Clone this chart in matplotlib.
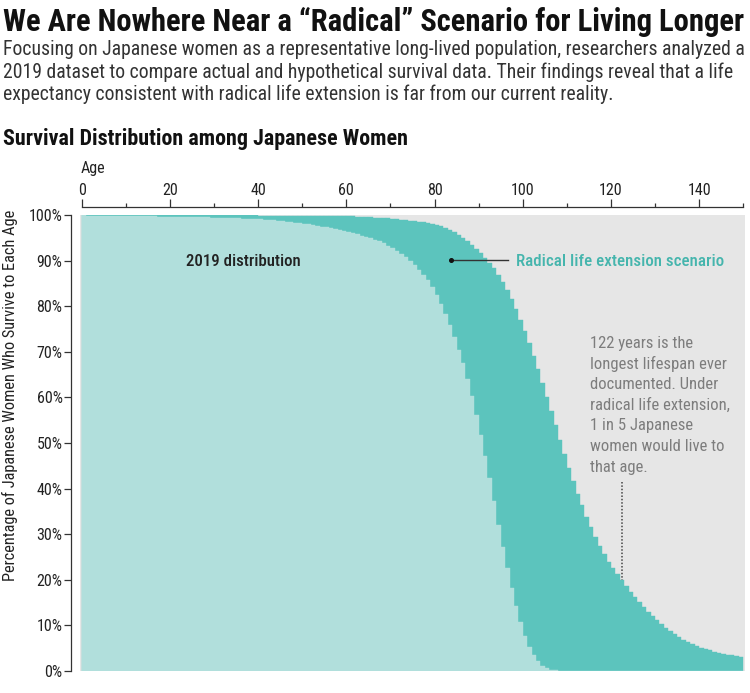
import matplotlib
matplotlib.use("Agg")
import matplotlib.pyplot as plt
from matplotlib import font_manager as fm

# ---------------- data ----------------
ages = list(range(0, 150))

survival_2019 = [
    100.0, 99.82, 99.80, 99.79, 99.78, 99.77, 99.76, 99.75, 99.75, 99.74,
    99.73, 99.73, 99.72, 99.72, 99.71, 99.70, 99.69, 99.67, 99.66, 99.64,
    99.62, 99.60, 99.58, 99.56, 99.54, 99.52, 99.50, 99.48, 99.46, 99.43,
    99.41, 99.38, 99.35, 99.32, 99.29, 99.25, 99.21, 99.17, 99.12, 99.07,
    99.02, 98.96, 98.89, 98.82, 98.74, 98.65, 98.55, 98.45, 98.34, 98.22,
    98.09, 97.95, 97.80, 97.64, 97.47, 97.29, 97.10, 96.90, 96.68, 96.45,
    96.30, 96.05, 95.80, 95.50, 95.20, 94.90, 94.60, 94.20, 93.80, 93.30,
    92.80, 92.20, 91.50, 90.80, 90.00, 89.10, 88.00, 86.90, 85.70, 84.20,
    82.50, 80.50, 78.30, 75.90, 73.30, 70.50, 67.50, 64.10, 60.30, 56.20,
    51.80, 47.10, 42.30, 37.20, 32.10, 27.30, 22.60, 18.20, 14.20, 10.80,
    7.70, 5.30, 3.50, 2.10, 1.20, 0.60, 0.30, 0.15, 0.07, 0.03,
    0.01, 0, 0, 0, 0, 0, 0, 0, 0, 0,
    0, 0, 0, 0, 0, 0, 0, 0, 0, 0,
    0, 0, 0, 0, 0, 0, 0, 0, 0, 0,
    0, 0, 0, 0, 0, 0, 0, 0, 0, 0,
]

survival_radical = [
    100.0, 99.98, 99.98, 99.98, 99.98, 99.98, 99.98, 99.98, 99.98, 99.98,
    99.96, 99.96, 99.96, 99.96, 99.96, 99.96, 99.96, 99.96, 99.96, 99.96,
    99.94, 99.94, 99.94, 99.94, 99.94, 99.94, 99.94, 99.94, 99.94, 99.94,
    99.91, 99.91, 99.91, 99.91, 99.91, 99.91, 99.91, 99.91, 99.91, 99.91,
    99.87, 99.87, 99.87, 99.87, 99.87, 99.87, 99.87, 99.87, 99.87, 99.87,
    99.82, 99.82, 99.82, 99.82, 99.82, 99.77, 99.77, 99.77, 99.77, 99.77,
    99.72, 99.68, 99.64, 99.60, 99.55, 99.50, 99.44, 99.38, 99.31, 99.24,
    99.16, 99.08, 98.99, 98.89, 98.78, 98.66, 98.53, 98.39, 98.23, 98.05,
    97.80, 97.50, 97.10, 96.70, 96.20, 95.60, 95.00, 94.30, 93.50, 92.60,
    91.60, 90.60, 89.50, 88.30, 86.90, 85.30, 83.50, 81.50, 79.30, 77.00,
    74.50, 71.90, 69.10, 66.20, 63.20, 60.10, 57.00, 53.90, 50.70, 47.60,
    44.60, 41.70, 38.90, 36.30, 33.80, 31.50, 29.40, 27.50, 25.70, 24.00,
    22.60, 21.20, 19.90, 18.60, 17.40, 16.20, 15.10, 14.00, 13.00, 12.00,
    11.10, 10.30, 9.50, 8.80, 8.10, 7.50, 6.90, 6.40, 5.90, 5.50,
    5.10, 4.80, 4.50, 4.20, 4.00, 3.80, 3.60, 3.40, 3.25, 3.10,
]

x_major = [0, 20, 40, 60, 80, 100, 120, 140]
x_minor = [10, 30, 50, 70, 90, 110, 130, 150]
y_ticks = [0, 10, 20, 30, 40, 50, 60, 70, 80, 90, 100]
y_ticklabels = [f"{v}%" for v in y_ticks]

title = "We Are Nowhere Near a \u201cRadical\u201d Scenario for Living Longer"
subtitle = [
    "Focusing on Japanese women as a representative long-lived population, researchers analyzed a",
    "2019 dataset to compare actual and hypothetical survival data. Their findings reveal that a life",
    "expectancy consistent with radical life extension is far from our current reality.",
]
chart_title = "Survival Distribution among Japanese Women"
y_label = "Percentage of Japanese Women Who Survive to Each Age"
note_lines = [
    "122 years is the",
    "longest lifespan ever",
    "documented. Under",
    "radical life extension,",
    "1 in 5 Japanese",
    "women would live to",
    "that age.",
]
note_age = 122

# ---------------- styling ----------------
BG = "#e6e6e6"
DARK = "#5cc4bd"
LIGHT = "#b1dfdc"
TEAL_TEXT = "#45b5ad"
GRAY_TEXT = "#7d7d7d"
INK = "#222222"

avail = {f.name for f in fm.fontManager.ttflist}


def pick(cands, default):
    for c in cands:
        if c in avail:
            return c
    return default


FONT = pick(["Roboto Condensed", "Liberation Sans Narrow", "Noto Sans Condensed",
             "DejaVu Sans Condensed", "Open Sans Condensed"], "Roboto")
plt.rcParams["font.family"] = [FONT, "DejaVu Sans"]

W, H = 750, 693
fig = plt.figure(figsize=(W / 100, H / 100), dpi=100)
fig.patch.set_facecolor("white")


def fx(x):
    return x / W


def fy(y):
    return 1 - y / H


# axes: plot area x 80..745, y 215..671
ax = fig.add_axes([fx(80), fy(671), (745 - 80) / W, (671 - 215) / H])
ax.set_facecolor(BG)
ax.bar(ages, survival_radical, width=1.0, align="edge", color=DARK,
       edgecolor=DARK, linewidth=0.3, zorder=2)
ax.bar(ages, survival_2019, width=1.0, align="edge", color=LIGHT,
       edgecolor=LIGHT, linewidth=0.3, zorder=3)
ax.set_xlim(-0.4, 150.4)
ax.set_ylim(0, 100)

for s in ["right", "bottom"]:
    ax.spines[s].set_visible(False)
ax.spines["top"].set_position(("outward", 8 * 0.72))
ax.spines["top"].set_bounds(0, 150)
ax.spines["left"].set_position(("outward", 9 * 0.72))
ax.spines["left"].set_bounds(0, 100)
for s in ["top", "left"]:
    ax.spines[s].set_color("#333333")
    ax.spines[s].set_linewidth(0.9)

ax.xaxis.tick_top()
ax.set_xticks(x_major)
ax.set_xticks(x_minor, minor=True)
ax.set_xticklabels([str(v) for v in x_major])
ax.tick_params(axis="x", which="major", length=8 * 0.72, width=0.9, color="#333333",
               labelsize=11.5, labelcolor=INK, pad=1)
ax.tick_params(axis="x", which="minor", length=4 * 0.72, width=0.9, color="#333333")
ax.set_yticks(y_ticks)
ax.set_yticklabels(y_ticklabels)
ax.tick_params(axis="y", length=7 * 0.72, width=0.9, color="#333333",
               labelsize=11.5, labelcolor=INK, pad=1)

# dotted pointer to age 122
ax.plot([note_age + 0.5, note_age + 0.5], [41.5, survival_radical[note_age]],
        linestyle=(0, (1, 1.2)), color="#444444", linewidth=1.1, zorder=5)

# in-chart label leader
ax.plot([83.7, 96.6], [90.1, 90.1], color="#333333", linewidth=1.0, zorder=5)
ax.plot([83.7], [90.1], "o", color="#111111", markersize=2.6, zorder=6)

# ---------------- text ----------------
renderer = fig.canvas.get_renderer()


def fit(t, width_px):
    bb = t.get_window_extent(renderer=renderer)
    t.set_fontsize(t.get_fontsize() * width_px / bb.width)


t_title = fig.text(fx(3), fy(31), title, fontsize=18, fontweight="bold",
                   color="#111111", va="baseline", ha="left")
fit(t_title, 742)

subs = []
for i, line in enumerate(subtitle):
    subs.append(fig.text(fx(3), fy(55 + 22.5 * i), line, fontsize=12,
                         color="#333333", va="baseline", ha="left"))
fit(subs[0], 742)
for t in subs[1:]:
    t.set_fontsize(subs[0].get_fontsize())

t_chart = fig.text(fx(3), fy(145), chart_title, fontsize=14, fontweight="bold",
                   color="#111111", va="baseline", ha="left")
fit(t_chart, 405)

fig.text(fx(81), fy(173), "Age", fontsize=11.5, color=INK, va="baseline", ha="left")

t_y = fig.text(fx(10), fy(210), y_label, fontsize=11.5, color=INK, rotation=90,
               va="top", ha="center")
bb = t_y.get_window_extent(renderer=renderer)
t_y.set_fontsize(t_y.get_fontsize() * 373 / bb.height)

t_2019 = fig.text(fx(186), fy(261.7), "2019 distribution", fontsize=12,
                  color=INK, va="center", ha="left", fontweight="medium")
fit(t_2019, 115)
t_rad = fig.text(fx(515.7), fy(261.7), "Radical life extension scenario", fontsize=12,
                 color=TEAL_TEXT, va="center", ha="left", fontweight="medium")
fit(t_rad, 207)

notes = []
for i, line in enumerate(note_lines):
    notes.append(fig.text(fx(590), fy(343.3 + 20.67 * i), line, fontsize=11.5,
                          color=GRAY_TEXT, va="center", ha="left"))
fit(notes[3], 140)
for t in notes:
    t.set_fontsize(notes[3].get_fontsize())

fig.savefig("out.png", dpi=100, facecolor="white")
